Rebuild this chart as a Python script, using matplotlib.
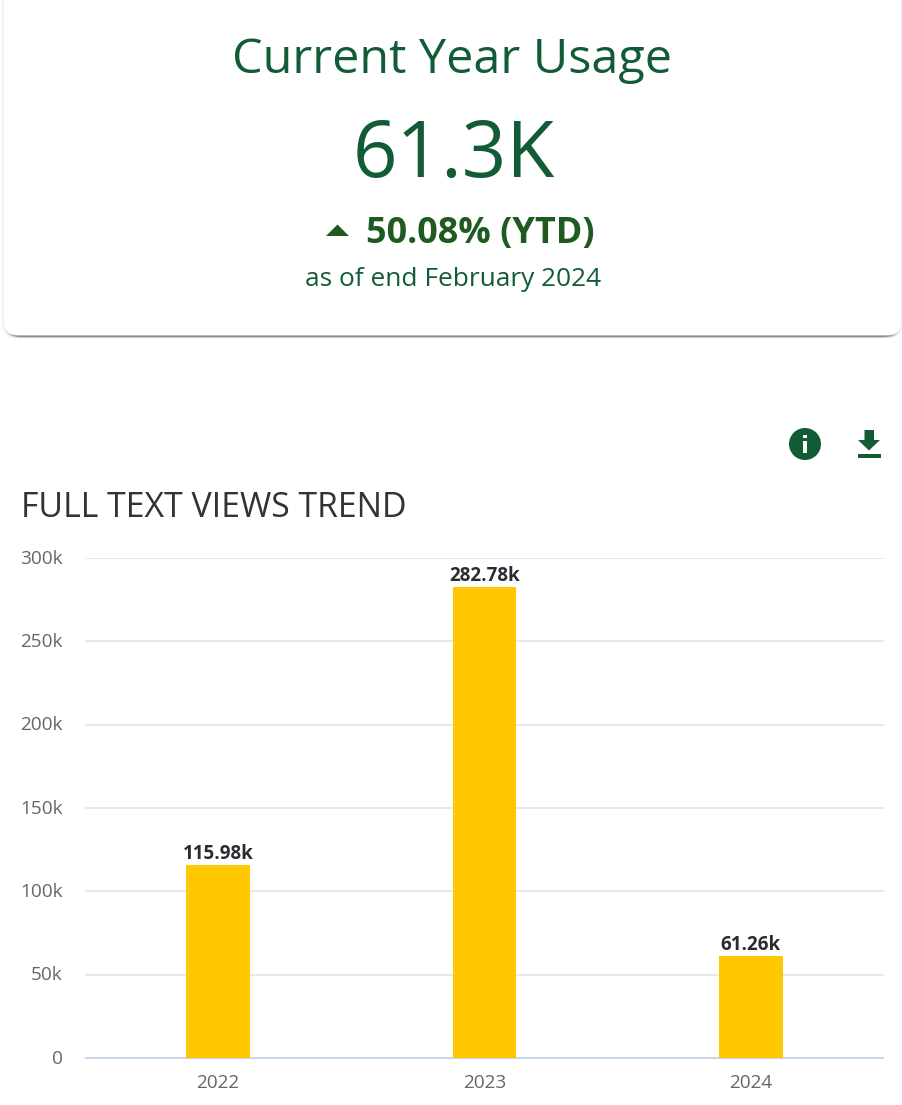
import matplotlib
matplotlib.use('Agg')
import matplotlib.pyplot as plt
from matplotlib.patches import FancyBboxPatch, Circle, Polygon, Rectangle
from matplotlib.transforms import ScaledTranslation

years = ['2022', '2023', '2024']
views = [115980, 282780, 61260]
bar_labels = ['115.98k', '282.78k', '61.26k']
y_ticks = [0, 50000, 100000, 150000, 200000, 250000, 300000]
y_tick_labels = ['0', '50k', '100k', '150k', '200k', '250k', '300k']

GREEN = '#125b37'
DARK_GREEN = '#1f5a21'
W, H = 903, 1105

plt.rcParams['font.family'] = ['Open Sans', 'DejaVu Sans']


def px(size):
    return size * 72 / 100


fig = plt.figure(figsize=(W / 100, H / 100), dpi=100, facecolor='white')

# overlay in pixel coordinates for the card, texts and icons
bg = fig.add_axes([0, 0, 1, 1])
bg.set_xlim(0, W)
bg.set_ylim(H, 0)
bg.axis('off')

# soft shadow: faint all round, dark only along the bottom edge
for grow, a in [(3, 0.015), (2, 0.02), (1, 0.03)]:
    bg.add_patch(FancyBboxPatch((4 - grow, -20), 897 + 2 * grow, 356 + grow,
                                boxstyle='round,pad=0,rounding_size=15',
                                fc='black', ec='none', alpha=a, zorder=1))
for inset, extra, a in [(1, 2.5, 0.12), (2, 1.7, 0.2), (3, 1.0, 0.3)]:
    bg.add_patch(FancyBboxPatch((4 + inset, -20), 897 - 2 * inset, 355.5 + extra,
                                boxstyle='round,pad=0,rounding_size=14',
                                fc='black', ec='none', alpha=a, zorder=1))
bg.add_patch(FancyBboxPatch((4, -20), 897, 355.5, boxstyle='round,pad=0,rounding_size=14',
                            fc='white', ec='none', zorder=2))

bg.text(452.5, 60, 'Current Year Usage', color=GREEN, fontsize=px(48.5), ha='center', va='center', zorder=3)
bg.text(453.5, 156, '61.3K', color=GREEN, fontsize=px(78), ha='center', va='center', zorder=3)
bg.text(480, 234, '50.08% (YTD)', color=DARK_GREEN, fontsize=px(36), fontweight='bold',
        ha='center', va='center', zorder=3)
bg.add_patch(Polygon([(326, 236), (349, 236), (337.5, 224.5)], fc=DARK_GREEN, ec='none', zorder=3))
bg.text(453, 280, 'as of end February 2024', color=GREEN, fontsize=px(26.2), ha='center', va='center', zorder=3)

# info icon
bg.add_patch(Circle((805, 444), 16, fc=GREEN, ec='none', zorder=3))
bg.add_patch(Rectangle((803.2, 441), 3.6, 12, fc='white', ec='none', zorder=4))
bg.add_patch(Rectangle((803.2, 434.5), 3.6, 3.6, fc='white', ec='none', zorder=4))

# download icon
bg.add_patch(Polygon([(864.5, 430), (874, 430), (874, 440), (880, 440), (869, 450.5), (858, 440), (864.5, 440)],
                     fc=GREEN, ec='none', zorder=3))
bg.add_patch(Rectangle((858, 454), 23, 3.5, fc=GREEN, ec='none', zorder=3))

bg.text(21, 508, 'FULL TEXT VIEWS TREND', color='#333333', fontsize=px(33.9), ha='left', va='center', zorder=3)

# bar chart
ax = fig.add_axes([85 / W, 1 - 1058 / H, (884 - 85) / W, 500 / H])
ax.patch.set_alpha(0)
ax.bar(range(len(years)), views, width=0.24, color='#ffc800', zorder=3)
for i in range(len(years)):
    ax.annotate(bar_labels[i], (i, views[i]), xytext=(0, 0.4), textcoords='offset points',
                ha='center', va='bottom', fontsize=px(18.8), fontweight='bold', color='#2b2b33', zorder=4)

ax.set_xlim(-0.5, 2.5)
ax.set_ylim(0, 300000)
ax.set_xticks(range(len(years)), years)
ax.set_yticks(y_ticks, y_tick_labels)
ax.grid(axis='y', color='#e6e6e6', lw=1.3, zorder=0)
ax.set_axisbelow(True)
for side in ['top', 'right', 'left']:
    ax.spines[side].set_visible(False)
ax.spines['bottom'].set_color('#ccd6eb')
ax.spines['bottom'].set_linewidth(1.5)
ax.spines['bottom'].set_capstyle('butt')
ax.tick_params(axis='x', length=0, pad=11.4, labelsize=px(19), labelcolor='#666666')
ax.tick_params(axis='y', length=0, pad=16, labelsize=px(19), labelcolor='#666666')
# y labels sit a little above their gridlines
nudge = ScaledTranslation(0, 1.5 / 100, fig.dpi_scale_trans)
for lab in ax.get_yticklabels():
    lab.set_transform(lab.get_transform() + nudge)

fig.savefig('out.png', dpi=100)
